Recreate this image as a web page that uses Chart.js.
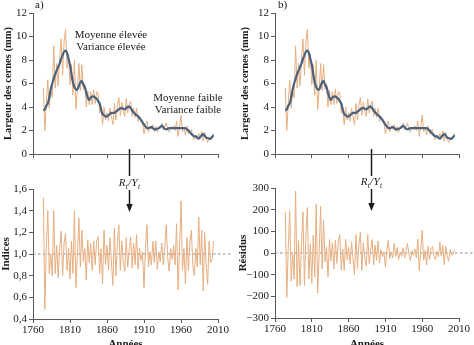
<!DOCTYPE html>
<html>
<head>
<meta charset="utf-8">
<script src="https://cdn.jsdelivr.net/npm/chart.js@4.4.1/dist/chart.umd.min.js"></script>
<style>
  html, body { margin: 0; padding: 0; background: #fff; overflow: hidden; width: 474px; height: 345px; }
  canvas { position: absolute; left: 0; top: 0; }
</style>
</head>
<body>
<canvas id="widthA" width="474" height="351"></canvas>
<canvas id="widthB" width="474" height="351"></canvas>
<canvas id="indexA" width="474" height="351"></canvas>
<canvas id="residB" width="474" height="351"></canvas>
<script>
// Ring series, one value every second year
const FIRST_YEAR = 1774;
const YEAR_STEP = 2;
const years = Array.from({ length: 116 }, (_, i) => FIRST_YEAR + YEAR_STEP * i);

// Raw ring widths R_t (mm)
const ringWidth = [
  5.6, 2.0, 4.3, 6.3, 3.9,     // 1774
  5.5, 4.8, 9.2, 5.6, 7.7,     // 1784
  5.8, 8.1, 9.8, 6.7, 9.6,     // 1794
  10.6, 7.3, 8.5, 5.9, 7.6,    // 1804
  5.0, 8.0, 3.8, 5.5, 7.7,     // 1814
  5.4, 7.6, 5.5, 6.0, 4.0,     // 1824
  5.4, 4.2, 5.3, 4.2, 5.5,     // 1834
  4.3, 5.3, 5.2, 3.5, 4.0,     // 1844
  2.5, 4.0, 2.9, 3.5, 2.8,     // 1854
  3.9, 3.2, 2.5, 4.3, 2.9,     // 1864
  4.1, 4.8, 3.3, 4.4, 3.6,     // 1874
  3.2, 4.7, 3.5, 4.2, 4.5,     // 1884
  3.2, 3.9, 3.1, 3.9, 2.75,    // 1894
  3.2, 2.7, 2.75, 1.7, 2.5,    // 1904
  2.8, 1.9, 2.3, 2.1, 2.5,     // 1914
  1.9, 2.35, 1.85, 2.25, 2.15, // 1924
  2.65, 2.05, 2.3, 2.65, 2.1,  // 1934
  1.85, 2.3, 2.1, 2.4, 2.0,    // 1944
  2.8, 1.5, 2.3, 3.3, 1.9,     // 1954
  2.3, 1.6, 2.4, 1.7, 2.0,     // 1964
  2.1, 1.45, 1.2, 1.6, 1.25,   // 1974
  1.75, 1.3, 1.95, 1.1, 1.85,  // 1984
  1.25, 0.97, 1.45, 1.2, 1.4,  // 1994
  1.8                          // 2004
];

// Fitted growth curve Y_t (mm)
const growthCurve = [
  3.7, 3.8, 4.1, 4.3, 4.8,     // 1774
  5.5, 6.0, 6.4, 6.8, 7.1,     // 1784
  7.4, 7.7, 8.1, 8.4, 8.7,     // 1794
  8.8, 8.6, 8.1, 7.6, 6.8,     // 1804
  6.1, 5.7, 5.5, 5.5, 5.8,     // 1814
  6.1, 6.2, 5.9, 5.7, 5.2,     // 1824
  4.8, 4.6, 4.8, 4.9, 4.9,     // 1834
  4.8, 4.7, 4.5, 4.3, 3.8,     // 1844
  3.4, 3.3, 3.2, 3.2, 3.3,     // 1854
  3.4, 3.5, 3.5, 3.5, 3.6,     // 1864
  3.7, 3.8, 3.9, 3.9, 3.85,    // 1874
  3.8, 3.9, 4.0, 4.05, 3.9,    // 1884
  3.7, 3.55, 3.4, 3.3, 3.2,    // 1894
  3.05, 2.9, 2.7, 2.5, 2.35,   // 1904
  2.2, 2.2, 2.25, 2.3, 2.2,    // 1914
  2.1, 2.1, 2.15, 2.2, 2.3,    // 1924
  2.4, 2.3, 2.15, 2.1, 2.15,   // 1934
  2.2, 2.2, 2.2, 2.2, 2.2,     // 1944
  2.2, 2.2, 2.2, 2.2, 2.2,     // 1954
  2.2, 2.2, 2.1, 2.0, 1.85,    // 1964
  1.7, 1.6, 1.5, 1.5, 1.4,     // 1974
  1.3, 1.45, 1.6, 1.7, 1.55,   // 1984
  1.4, 1.35, 1.3, 1.3, 1.45,   // 1994
  1.6                          // 2004
];

// Ring-width indices R_t / Y_t
const ringIndex = [
  1.52, 0.49, 1.05, 1.40, 0.82, // 1774
  1.00, 0.80, 1.40, 0.82, 1.08, // 1784
  0.78, 1.05, 1.21, 0.80, 1.10, // 1794
  1.19, 0.85, 1.05, 0.77, 1.12, // 1804
  0.82, 1.40, 0.69, 1.00, 1.33, // 1814
  0.88, 1.22, 0.93, 1.05, 0.76, // 1824
  1.13, 0.92, 1.10, 0.85, 1.12, // 1834
  0.90, 1.12, 1.16, 0.82, 1.05, // 1844
  0.72, 1.22, 0.90, 1.08, 0.85, // 1854
  1.15, 0.92, 0.71, 1.24, 0.80, // 1864
  1.10, 1.27, 0.85, 1.12, 0.93, // 1874
  0.84, 1.15, 0.88, 1.04, 1.16, // 1884
  0.87, 1.10, 0.90, 1.18, 0.86, // 1894
  1.05, 0.94, 1.02, 0.69, 1.05, // 1904
  1.27, 0.88, 1.02, 0.90, 1.12, // 1914
  0.92, 1.12, 0.86, 1.02, 0.93, // 1924
  1.10, 0.90, 1.06, 1.27, 0.97, // 1934
  0.84, 1.05, 0.95, 1.08, 0.90, // 1944
  1.28, 0.67, 1.05, 1.49, 0.85, // 1954
  1.05, 0.72, 1.15, 0.85, 1.10, // 1964
  1.22, 0.90, 0.80, 1.05, 0.88, // 1974
  1.34, 0.90, 1.22, 0.66, 1.20, // 1984
  0.90, 0.72, 1.12, 0.92, 0.95, // 1994
  1.12                          // 2004
];

// Residuals R_t - Y_t (1/100 mm)
const ringResidual = [
  192, -205, 20, 195, -130,     // 1774
  0, -120, 285, -155, 57,       // 1784
  -150, 38, 190, -150, 87,      // 1794
  210, -120, 40, -140, 82,      // 1804
  -110, 226, -184, 0, 215,      // 1814
  -73, 150, -41, 28, -110,      // 1824
  62, -37, 48, -74, 59,         // 1834
  -48, 56, 85, -77, 19,         // 1844
  -80, 65, -32, 26, -50,        // 1854
  51, -28, -100, 85, -72,       // 1864
  37, 95, -80, 47, -27,         // 1874
  -61, 85, -48, 16, 62,         // 1884
  -55, 36, -34, 55, -45,        // 1894
  15, -17, 5, -65, 12,          // 1904
  59, -26, 5, -23, 45,          // 1914
  -17, 25, -30, 4, -16,         // 1924
  24, -23, 13, 45, -6,          // 1934
  -35, 11, -11, 18, -22,        // 1944
  65, -80, 11, 105, -33,        // 1954
  11, -55, 32, -30, 19,         // 1964
  30, -16, -30, 8, -17,         // 1974
  50, -15, 35, -55, 31,         // 1984
  -14, -38, 16, -10, -7,        // 1994
  15                            // 2004
];

// Axis ticks
const yearTicks = [1760, 1810, 1860, 1910, 1960, 2010];
const widthTicks = [0, 2, 4, 6, 8, 10, 12];
const indexTicks = [0.4, 0.6, 0.8, 1.0, 1.2, 1.4, 1.6];
const residualTicks = [-300, -200, -100, 0, 100, 200, 300];
const MARK_YEAR = 1890;

const SERIF = '"Liberation Serif", "Times New Roman", serif';
const ORANGE = '#e7ae80';
const BLUE = '#48637f';
const AXIS = '#5a5a5a';
const INK = '#1a1a1a';

const pts = vals => vals.map((v, i) => ({ x: years[i], y: v }));
const fixedTicks = list => scale => { scale.ticks = list.map(v => ({ value: v })); };

// dotted line at the neutral value of the lower panels
const refLine = {
  id: 'refLine',
  beforeDatasetsDraw(chart, args, opts) {
    if (opts.value === undefined) return;
    const { ctx, chartArea } = chart;
    const y = chart.scales.y.getPixelForValue(opts.value);
    ctx.save();
    ctx.strokeStyle = '#8c8c8c';
    ctx.lineWidth = 1;
    ctx.setLineDash([2.5, 2.5]);
    ctx.beginPath();
    ctx.moveTo(chartArea.left, y);
    ctx.lineTo(chartArea.right + 15, y);
    ctx.stroke();
    ctx.restore();
  }
};

// free text placed on the panel
const notes = {
  id: 'notes',
  afterDraw(chart, args, opts) {
    const ctx = chart.ctx;
    ctx.save();
    ctx.fillStyle = INK;
    ctx.textBaseline = 'middle';
    (opts.items || []).forEach(it => {
      ctx.font = `${it.size || 11}px ${SERIF}`;
      ctx.textAlign = it.align || 'left';
      ctx.fillText(it.text, it.x, it.y);
    });
    ctx.restore();
  }
};

// upper part of the connector between the width panel and the index panel
const connectorTop = {
  id: 'connectorTop',
  afterDraw(chart, args, opts) {
    if (!opts.on) return;
    const { ctx, chartArea } = chart;
    const x = Math.round(chart.scales.x.getPixelForValue(MARK_YEAR)) + 0.5;
    ctx.save();
    ctx.strokeStyle = INK;
    ctx.lineWidth = 1.5;
    ctx.beginPath();
    ctx.moveTo(x, chartArea.bottom - 5);
    ctx.lineTo(x, chartArea.bottom + 22);
    ctx.stroke();
    ctx.restore();
  }
};

// R_t / Y_t label and arrow above the lower panels
const connectorBottom = {
  id: 'connectorBottom',
  afterDraw(chart, args, opts) {
    if (!opts.on) return;
    const { ctx, chartArea } = chart;
    const x = Math.round(chart.scales.x.getPixelForValue(MARK_YEAR)) + 0.5;
    const top = chartArea.top;
    const big = `italic 11px ${SERIF}`;
    const small = `italic 7.5px ${SERIF}`;
    const parts = [
      { t: 'R', f: big, dy: 0 }, { t: 't', f: small, dy: 2.5 },
      { t: '/', f: big, dy: 0 },
      { t: 'Y', f: big, dy: 0 }, { t: 't', f: small, dy: 2.5 }
    ];
    ctx.save();
    ctx.fillStyle = INK;
    ctx.textBaseline = 'alphabetic';
    ctx.textAlign = 'left';
    let w = 0;
    parts.forEach(p => { ctx.font = p.f; p.w = ctx.measureText(p.t).width; w += p.w + 0.3; });
    let cx = x - w / 2;
    const base = top - 3;
    parts.forEach(p => { ctx.font = p.f; ctx.fillText(p.t, cx, base + p.dy); cx += p.w + 0.3; });
    ctx.strokeStyle = INK;
    ctx.lineWidth = 1.5;
    ctx.beginPath();
    ctx.moveTo(x, top + 1);
    ctx.lineTo(x, top + 17);
    ctx.stroke();
    ctx.beginPath();
    ctx.moveTo(x - 3.2, top + 15);
    ctx.lineTo(x + 3.2, top + 15);
    ctx.lineTo(x, top + 23);
    ctx.closePath();
    ctx.fill();
    ctx.restore();
  }
};

function panel(id, cfg) {
  return new Chart(document.getElementById(id), {
    type: 'line',
    data: { datasets: cfg.datasets },
    options: {
      responsive: false,
      animation: false,
      devicePixelRatio: 1,
      layout: { padding: cfg.padding },
      elements: { point: { radius: 0 } },
      plugins: {
        legend: { display: false },
        tooltip: { enabled: false },
        refLine: { value: cfg.ref },
        notes: { items: cfg.notes || [] },
        connectorTop: { on: !!cfg.connectorTop },
        connectorBottom: { on: !!cfg.connectorBottom }
      },
      scales: {
        x: {
          type: 'linear',
          min: 1760,
          max: 2010,
          afterBuildTicks: fixedTicks(yearTicks),
          afterFit: s => { s.height = cfg.xHeight; },
          grid: { drawOnChartArea: false, color: AXIS, tickLength: 4 },
          border: { color: AXIS, width: 1 },
          ticks: {
            display: cfg.xLabels,
            color: INK,
            padding: 1,
            maxRotation: 0,
            autoSkip: false,
            font: { family: SERIF, size: 11 },
            callback: v => String(v)
          },
          title: {
            display: cfg.xLabels,
            text: 'Années',
            color: INK,
            padding: { top: 0, bottom: 0 },
            font: { family: SERIF, size: 11, weight: 'bold', lineHeight: 1.2 }
          }
        },
        y: {
          min: cfg.yMin,
          max: cfg.yMax,
          afterBuildTicks: fixedTicks(cfg.yTicks),
          afterFit: s => { s.width = cfg.yWidth; },
          grid: { drawOnChartArea: false, color: AXIS, tickLength: 4 },
          border: { color: AXIS, width: 1 },
          ticks: {
            color: INK,
            padding: 2,
            font: { family: SERIF, size: 11 },
            callback: cfg.fmt
          },
          title: {
            display: true,
            text: cfg.yTitle,
            color: INK,
            padding: { top: cfg.titlePad, bottom: 0 },
            font: { family: SERIF, size: cfg.titleSize || 11, weight: 'bold', lineHeight: 1.2 }
          }
        }
      }
    },
    plugins: [refLine, notes, connectorTop, connectorBottom]
  });
}

const widthSets = () => [
  { data: pts(ringWidth), borderColor: ORANGE, borderWidth: 1, tension: 0, order: 2 },
  { data: pts(growthCurve), borderColor: BLUE, borderWidth: 2.2, tension: 0.4, order: 1 }
];
const intFmt = v => String(v);

panel('widthA', {
  datasets: widthSets(),
  padding: { left: 0, top: 13, right: 256, bottom: 192 },
  xHeight: 5, xLabels: false, yWidth: 33, titlePad: 2, titleSize: 10.5,
  yMin: 0, yMax: 12, yTicks: widthTicks, fmt: intFmt,
  yTitle: 'Largeur des cernes (mm)',
  connectorTop: true,
  notes: [
    { text: 'a)', x: 35, y: 5 },
    { text: 'Moyenne élevée', x: 111, y: 35, align: 'center' },
    { text: 'Variance élevée', x: 111, y: 47, align: 'center' },
    { text: 'Moyenne faible', x: 188, y: 98, align: 'center' },
    { text: 'Variance faible', x: 188, y: 110, align: 'center' }
  ]
});

panel('widthB', {
  datasets: widthSets(),
  padding: { left: 237, top: 13, right: 15, bottom: 192 },
  xHeight: 5, xLabels: false, yWidth: 38, titlePad: 2, titleSize: 10.5,
  yMin: 0, yMax: 12, yTicks: widthTicks, fmt: intFmt,
  yTitle: 'Largeur des cernes (mm)',
  connectorTop: true,
  notes: [{ text: 'b)', x: 278, y: 5 }]
});

panel('indexA', {
  datasets: [{ data: pts(ringIndex), borderColor: ORANGE, borderWidth: 1, tension: 0 }],
  padding: { left: 0, top: 189, right: 256, bottom: 0 },
  xHeight: 32, xLabels: true, yWidth: 33, titlePad: 0,
  yMin: 0.4, yMax: 1.6, yTicks: indexTicks,
  fmt: v => v.toFixed(1).replace('.', ','),
  yTitle: 'Indices',
  ref: 1,
  connectorBottom: true
});

panel('residB', {
  datasets: [{ data: pts(ringResidual), borderColor: ORANGE, borderWidth: 1, tension: 0 }],
  padding: { left: 237, top: 188, right: 15, bottom: 0 },
  xHeight: 33, xLabels: true, yWidth: 38, titlePad: 0,
  yMin: -300, yMax: 300, yTicks: residualTicks,
  fmt: v => (v < 0 ? '\u2212' + Math.abs(v) : String(v)),
  yTitle: 'Résidus',
  ref: 0,
  connectorBottom: true
});
</script>
</body>
</html>
